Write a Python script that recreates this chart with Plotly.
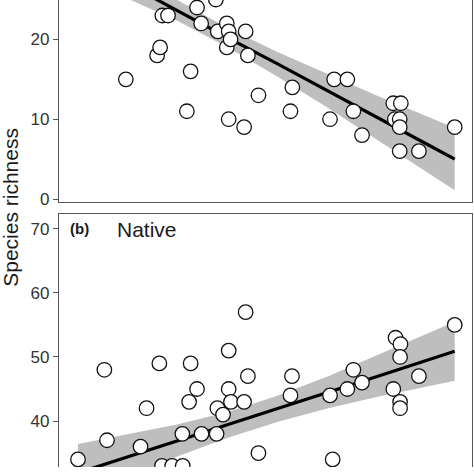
import plotly.graph_objects as go

# ---------------- data ----------------
# (a) Exotic species richness (top panel, upper part cropped)
exotic_x = [12.7, 21.0, 21.8, 22.4, 23.9, 29.9, 28.9, 31.6, 32.7, 36.6,
            37.1, 39.5, 40.0, 39.5, 40.5, 40.0, 44.1, 44.5, 45.1, 47.9,
            56.9, 56.4, 66.9, 68.0, 71.5, 73.1, 75.4, 83.7, 85.7, 84.1,
            85.4, 85.4, 85.4, 90.5, 100.0]
exotic_y = [15, 18, 19, 23, 23, 16, 11, 24, 22, 25,
            21, 22, 21, 19, 20, 10, 9, 21, 18, 13,
            14, 11, 10, 15, 15, 11, 8, 12, 12, 10,
            10, 9, 6, 6, 9]

# (b) Native species richness (bottom panel, lower part cropped)
native_x = [0.0, 7.0, 7.7, 16.6, 18.2, 21.6, 22.3, 25.0, 27.8, 27.7,
            29.5, 29.9, 31.6, 32.8, 36.8, 37.0, 38.5, 40.0, 40.0, 40.6,
            44.1, 44.5, 45.1, 47.9, 56.4, 56.8, 66.9, 67.6, 71.5, 73.1,
            75.4, 83.7, 84.3, 85.6, 85.5, 85.5, 85.5, 90.5, 100.0]
native_y = [34, 48, 37, 36, 42, 49, 33, 33, 33, 38,
            43, 49, 45, 38, 38, 42, 41, 51, 45, 43,
            43, 57, 47, 35, 44, 47, 44, 34, 45, 48,
            46, 45, 53, 52, 50, 43, 42, 47, 55]

# fitted regression lines and 95% confidence bands
fit_x = [0, 13.3, 26.5, 39.8, 53.1, 66.4, 79.6, 92.9, 100]
exotic_fit = [30.3, 26.9, 23.6, 20.2, 16.9, 13.5, 10.1, 6.8, 5.0]
exotic_upper = [32.7, 28.7, 24.9, 21.4, 18.4, 15.6, 12.9, 10.3, 8.9]
exotic_lower = [27.9, 25.1, 22.3, 19.0, 15.3, 11.4, 7.4, 3.3, 1.1]
native_fit = [31.9, 34.4, 36.9, 39.4, 42.0, 44.5, 47.0, 49.5, 50.9]
native_upper = [36.4, 37.9, 39.5, 41.4, 44.0, 47.0, 50.3, 53.6, 55.5]
native_lower = [27.9, 31.2, 34.5, 37.4, 39.9, 42.0, 43.8, 45.4, 46.3]

top_ticks = [0, 10, 20]
bottom_ticks = [40, 50, 60, 70]

# ---------------- figure ----------------
W, H = 474, 474
L, R = 59, 2
BAND = "#BEBEBE"
AX = "#555555"
FONT = "Liberation Sans, Arial, sans-serif"

fig = go.Figure()


def add_panel(xs, ys, fx, fy, up, lo, xa, ya):
    fig.add_trace(go.Scatter(
        x=fx + fx[::-1], y=up + lo[::-1], fill="toself", fillcolor=BAND,
        line=dict(width=0), mode="lines", hoverinfo="skip",
        xaxis=xa, yaxis=ya))
    fig.add_trace(go.Scatter(
        x=fx, y=fy, mode="lines", line=dict(color="black", width=3.2),
        xaxis=xa, yaxis=ya))
    fig.add_trace(go.Scatter(
        x=xs, y=ys, mode="markers",
        marker=dict(size=14.5, color="white",
                    line=dict(color="#111111", width=1.3)),
        xaxis=xa, yaxis=ya))


add_panel(exotic_x, exotic_y, fit_x, exotic_fit, exotic_upper, exotic_lower, "x", "y")
add_panel(native_x, native_y, fit_x, native_fit, native_upper, native_lower, "x2", "y2")

xrange = [-5.04, 104.59]
axis_common = dict(showgrid=False, zeroline=False, linecolor=AX, linewidth=1.3)
ytick_common = dict(ticks="outside", ticklen=5, tickwidth=1.2, tickcolor=AX,
                    tickfont=dict(family=FONT, size=17, color="#333333"))

fig.update_layout(
    width=W, height=H,
    margin=dict(l=L, r=R, t=0, b=0, pad=0),
    paper_bgcolor="white", plot_bgcolor="white",
    showlegend=False,
    xaxis=dict(domain=[0, 1], range=xrange, anchor="y", showline=True,
               ticks="", showticklabels=False, **axis_common),
    yaxis=dict(domain=[1 - 205 / H, 1], range=[-0.37, 24.94], anchor="x",
               showline=True, mirror=True, tickvals=top_ticks,
               **axis_common, **ytick_common),
    xaxis2=dict(domain=[0, 1], range=xrange, anchor="y2", side="top",
                showline=True, ticks="", showticklabels=False, **axis_common),
    yaxis2=dict(domain=[0, 1 - 217.3 / H], range=[32.82, 72.31], anchor="x2",
                showline=True, mirror=True, tickvals=bottom_ticks,
                **axis_common, **ytick_common),
)

PW = W - L - R


def px2paper_x(px):
    return (px - L) / PW


fig.add_annotation(text="Species richness", textangle=-90,
                   x=px2paper_x(10.5), y=1 - 210.4 / H, xref="paper", yref="paper",
                   xanchor="center", yanchor="middle", showarrow=False,
                   font=dict(family=FONT, size=21, color="#1a1a1a"))
fig.add_annotation(text="<b>(b)</b>",
                   x=px2paper_x(67.5), y=1 - 232 / H, xref="paper", yref="paper",
                   xanchor="left", yanchor="middle", showarrow=False,
                   font=dict(family=FONT, size=15, color="#1a1a1a"))
fig.add_annotation(text="Native",
                   x=px2paper_x(114.5), y=1 - 233 / H, xref="paper", yref="paper",
                   xanchor="left", yanchor="middle", showarrow=False,
                   font=dict(family=FONT, size=21, color="#1a1a1a"))

fig.write_html("out.html")
